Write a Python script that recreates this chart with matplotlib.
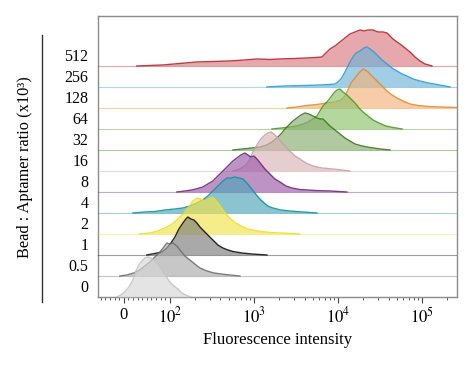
import numpy as np
import matplotlib.pyplot as plt
from matplotlib.lines import Line2D

plt.rcParams['font.family'] = ['Liberation Serif', 'DejaVu Serif']
plt.rcParams['mathtext.fontset'] = 'stix'

# Bead : aptamer ratios (x10^3), bottom row first
ratio_labels = ['0', '0.5', '1', '2', '4', '8', '16', '32', '64', '128', '256', '512']

# fluorescence intensity (fl_*) and event counts (cnt_*) for each sample
fl_0 = [-15.2, -6.5, 2.2, 10.9, 19.6, 26.1, 32.6, 39.1, 45.7, 52.2, 58.7, 65.2, 73.9, 82.6, 91.3,
        100, 112, 125, 139, 155, 178]
cnt_0 = [0, 2, 5, 10, 17, 26, 32, 36, 39, 40, 39, 37, 33, 27, 21, 15, 11, 8, 4, 2, 0]

fl_05 = [-8.7, 6.5, 21.7, 34.8, 45.7, 56.5, 67.4, 78.3, 87, 93.5, 100, 109, 121, 135, 151, 173,
         198, 228, 276, 334, 452, 681]
cnt_05 = [0, 1, 3, 6, 10, 14, 19, 24, 29, 33, 32, 33, 30, 25, 20, 16, 12, 8, 5, 3, 1.5, 0]

fl_1 = [50, 67.4, 82.6, 93.5, 103, 115, 128, 143, 155, 164, 178, 193, 210, 228, 254, 283, 325,
        373, 428, 490, 562, 720, 946, 1428]
cnt_1 = [0, 1.5, 3, 7, 12, 18, 26, 32, 36, 38, 36, 35, 32, 28, 24, 20, 15, 10, 7, 5, 3.5, 2, 1, 0]

fl_2 = [34.8, 56.5, 73.9, 89.1, 106, 125, 147, 168, 188, 210, 234, 261, 291, 316, 343, 383, 428,
        477, 532, 611, 700, 848, 1116, 1551, 2339, 3532]
cnt_2 = [0, 1, 3, 6, 10, 15, 21, 27, 33, 36, 35, 33, 35, 37, 35, 30, 24, 19, 15, 11, 8, 5, 3,
         1.5, 0.8, 0]

fl_4 = [19.6, 45.7, 67.4, 89.1, 115, 143, 173, 210, 247, 283, 325, 373, 428, 477, 532, 594, 663,
        740, 825, 921, 1028, 1147, 1280, 1468, 1683, 2096, 2683, 3833, 5623]
cnt_4 = [0, 1, 1.5, 3, 4, 5, 7, 10, 13, 17, 22, 27, 32, 35, 35, 36, 35, 34, 30, 25, 20, 15, 11,
         7, 5, 3, 2, 1, 0]

fl_8 = [121, 151, 183, 215, 247, 283, 325, 373, 428, 490, 562, 628, 700, 781, 848, 921, 1000,
        1086, 1212, 1352, 1549, 1778, 2040, 2404, 2833, 3532, 5323, 8031, 12800]
cnt_8 = [0, 1, 2, 3.5, 5, 8, 11, 16, 21, 26, 31, 34, 37, 39, 37, 35, 36, 33, 28, 23, 18, 13, 10,
         6, 4, 2.5, 1.5, 1, 0]

fl_16 = [562, 681, 781, 872, 973, 1086, 1212, 1352, 1468, 1594, 1730, 1931, 2154, 2404, 2683,
         3077, 3532, 4159, 5036, 6450, 8717, 13900]
cnt_16 = [0, 2, 5, 10, 19, 26, 32, 36, 38, 39, 37, 33, 28, 24, 20, 15, 12, 8, 5, 3, 2, 0]

fl_32 = [562, 740, 946, 1179, 1428, 1638, 1879, 2096, 2339, 2610, 2913, 3250, 3627, 4047, 4518,
         5036, 5623, 6105, 6626, 7197, 8031, 9210, 10570, 12120, 13900, 15940, 19310, 24040,
         31620, 41590]
cnt_32 = [0, 1, 2, 3, 5, 8, 12, 16, 21, 25, 29, 32, 35, 37, 36, 34, 32, 31, 31, 28, 24, 20, 16,
          12, 9, 6, 4, 2.5, 1, 0]

fl_64 = [1638, 2154, 2683, 3250, 3833, 4394, 5036, 5623, 6105, 6626, 7397, 8254, 8960, 9730,
         10570, 11470, 12800, 14280, 15940, 17780, 19860, 22760, 26100, 30770, 37280, 45100, 57800]
cnt_64 = [0, 1, 2, 3, 5, 7, 10, 13, 18, 23, 27, 32, 36, 39, 40, 37, 34, 30, 26, 21, 17, 13, 9,
          6, 3, 1.5, 0]

fl_128 = [2471, 3250, 4275, 5623, 7397, 9210, 10860, 12120, 13150, 14280, 15940, 17780, 19860,
          22130, 24710, 27570, 30770, 34340, 38300, 43940, 50360, 59400, 71900, 89600, 117900,
          163800, 261000]
cnt_128 = [0, 1, 2.5, 3.5, 5, 6, 8, 12, 18, 25, 30, 35, 39, 37, 33, 29, 25, 21, 17, 13, 10, 7, 4,
           2.5, 1.5, 1, 0.5]

fl_256 = [1428, 2339, 4047, 6105, 8031, 9210, 10000, 10860, 11790, 12800, 13900, 15090, 16380,
          18290, 20400, 22130, 24040, 26830, 29940, 33420, 38300, 43940, 50360, 57800, 66260,
          78100, 94600, 117900, 150900, 215400]
cnt_256 = [0, 1, 1.5, 2, 2.5, 3, 5, 8, 13, 19, 25, 30, 34, 36, 39, 40, 38, 35, 31, 27, 23, 19,
           16, 13, 11, 8, 6, 4, 2.5, 0]

fl_512 = [28.3, 56.5, 84.8, 131.5, 210, 325, 518, 781, 1086, 1549, 2040, 3077, 4275, 5470, 6450,
          7197, 8031, 9210, 10570, 12120, 13900, 15940, 18290, 20400, 22760, 26100, 29940, 34340,
          38300, 41590, 45100, 50360, 54700, 62760, 71900, 82500, 94600, 108600, 131500]
cnt_512 = [0, 0.5, 1, 2.5, 4, 4.5, 5, 6, 7, 6.5, 7, 7.5, 8, 8.5, 9, 13, 17, 20, 24, 28, 32, 34,
           36, 35, 36, 36, 34, 34, 33, 30, 27, 24, 22, 18, 14, 9, 5, 2, 0]

fl_all = [fl_0, fl_05, fl_1, fl_2, fl_4, fl_8, fl_16, fl_32, fl_64, fl_128, fl_256, fl_512]
cnt_all = [cnt_0, cnt_05, cnt_1, cnt_2, cnt_4, cnt_8, cnt_16, cnt_32, cnt_64, cnt_128, cnt_256, cnt_512]

fill_colors = ['#d6d6d6', '#a9a9a9', '#7c7c7c', '#f2e34a', '#4fa3b8', '#9a5aa8',
               '#d9b3b8', '#86ad6e', '#8cc26a', '#f2b27a', '#6fb2d8', '#d97a80']
edge_colors = ['#c4c4c4', '#6e6e6e', '#111111', '#ece026', '#12939e', '#6d2a7e',
               '#c9a2a8', '#3b7a1e', '#4f9a2a', '#e88a2a', '#2c9fd0', '#b8282c']

count_scale = 1.0 / 21  # counts -> row heights

fig = plt.figure(figsize=(4.74, 3.65), dpi=100)
ax = fig.add_axes([0.2068, 0.1863, 0.7574, 0.7699])
ax.set_xscale('symlog', linthresh=100, linscale=0.493)

n = len(ratio_labels)
for i in range(n - 1, -1, -1):
    z = 2 + (n - i)
    x = np.array(fl_all[i], dtype=float)
    y = i + np.array(cnt_all[i], dtype=float) * count_scale
    ax.axhline(i, color=edge_colors[i], lw=0.8, alpha=0.4, zorder=z)
    ax.fill_between(x, i, y, color=fill_colors[i], alpha=0.65, lw=0, zorder=z)
    ax.plot(x, y, color=edge_colors[i], lw=1.0, alpha=0.9, zorder=z)

ax.set_xlim(-56, 261000)
ax.set_ylim(0, 13.38)

ax.set_xticks([0, 100, 1000, 10000, 100000])
ax.set_xticklabels(['0', r'$10^{2}$', r'$10^{3}$', r'$10^{4}$', r'$10^{5}$'])
minor = list(range(-50, 100, 10))
for d in [100, 1000, 10000, 100000]:
    minor += [k * d for k in range(2, 10) if k * d < 261000]
ax.set_xticks(minor, minor=True)
ax.tick_params(axis='x', which='major', length=4, width=0.8, color='#444444',
               labelsize=12, pad=3)
ax.tick_params(axis='x', which='minor', length=2, width=0.6, color='#444444')

ax.set_yticks([i + 0.5 for i in range(n)])
ax.set_yticklabels(ratio_labels)
ax.tick_params(axis='y', length=0, labelsize=11.5, pad=7)

for s in ax.spines.values():
    s.set_color('#8c8c8c')
    s.set_linewidth(1.0)

ax.set_xlabel('Fluorescence intensity', fontsize=12, labelpad=4)
fig.text(25 / 474, 1 - 167 / 365, 'Bead : Aptamer ratio (x10³)', rotation=90,
         ha='center', va='center', fontsize=11.8)
fig.add_artist(Line2D([42 / 474, 42 / 474], [1 - 35 / 365, 1 - 302 / 365],
                      transform=fig.transFigure, color='#333333', lw=1.0))

fig.savefig('out.png', dpi=100)
